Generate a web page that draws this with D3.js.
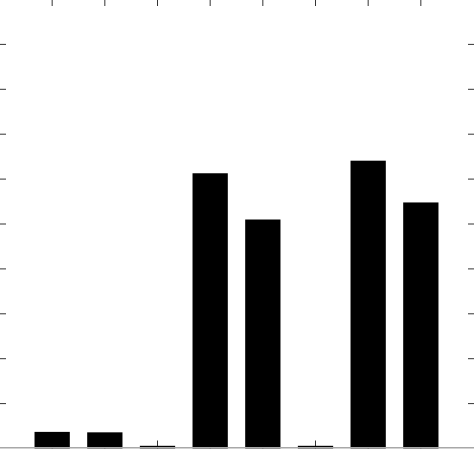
<!DOCTYPE html>
<html>
<head>
<meta charset="utf-8">
<script src="https://cdn.jsdelivr.net/npm/d3@7"></script>
<style>
  html, body { margin: 0; padding: 0; background: #fff; }
  svg { display: block; }
</style>
</head>
<body>
<div id="chart"></div>
<script>
// bar categories (positions 1..8) and heights
const categories = [1, 2, 3, 4, 5, 6, 7, 8];
const values = [0.37, 0.36, 0.06, 6.13, 5.10, 0.06, 6.41, 5.48];
const yTicks = [1, 2, 3, 4, 5, 6, 7, 8, 9];

const width = 474;
const height = 449;

const svg = d3.select('#chart')
    .append('svg')
    .attr('width', width)
    .attr('height', height);

const xScale = d3.scaleLinear()
    .domain([0, 9])
    .range([-0.5, 473.5]);

const yScale = d3.scaleLinear()
    .domain([0, 10])
    .range([448.5, -0.5]);

const barWidth = 0.67;
const tickLen = 6;
const tickColor = '#333';

// x ticks, top (pointing down) and bottom (pointing up)
const xt = svg.append('g').attr('class', 'x-ticks');
xt.selectAll('.tick-top')
    .data(categories)
    .enter()
    .append('line')
    .attr('class', 'tick-top')
    .attr('x1', d => xScale(d))
    .attr('x2', d => xScale(d))
    .attr('y1', 0)
    .attr('y2', tickLen)
    .attr('stroke', tickColor)
    .attr('stroke-width', 1);
xt.selectAll('.tick-bottom')
    .data(categories)
    .enter()
    .append('line')
    .attr('class', 'tick-bottom')
    .attr('x1', d => xScale(d))
    .attr('x2', d => xScale(d))
    .attr('y1', yScale(0))
    .attr('y2', yScale(0) - tickLen - 2)
    .attr('stroke', tickColor)
    .attr('stroke-width', 1);

// y ticks, left and right
const yt = svg.append('g').attr('class', 'y-ticks');
yt.selectAll('.tick-left')
    .data(yTicks)
    .enter()
    .append('line')
    .attr('class', 'tick-left')
    .attr('x1', 0)
    .attr('x2', tickLen)
    .attr('y1', d => yScale(d))
    .attr('y2', d => yScale(d))
    .attr('stroke', tickColor)
    .attr('stroke-width', 1);
yt.selectAll('.tick-right')
    .data(yTicks)
    .enter()
    .append('line')
    .attr('class', 'tick-right')
    .attr('x1', width)
    .attr('x2', width - tickLen)
    .attr('y1', d => yScale(d))
    .attr('y2', d => yScale(d))
    .attr('stroke', tickColor)
    .attr('stroke-width', 1);

// bars
svg.selectAll('.bar')
    .data(values)
    .enter()
    .append('rect')
    .attr('class', 'bar')
    .attr('x', (d, i) => xScale(categories[i] - barWidth / 2))
    .attr('width', xScale(barWidth) - xScale(0))
    .attr('y', d => yScale(d))
    .attr('height', d => yScale(0) - yScale(d))
    .attr('fill', '#000');

// bottom box line, on top of the bars
svg.append('line')
    .attr('x1', 0)
    .attr('x2', width)
    .attr('y1', 447.8)
    .attr('y2', 447.8)
    .attr('stroke', '#a8a8a8')
    .attr('stroke-width', 1.6);
</script>
</body>
</html>
